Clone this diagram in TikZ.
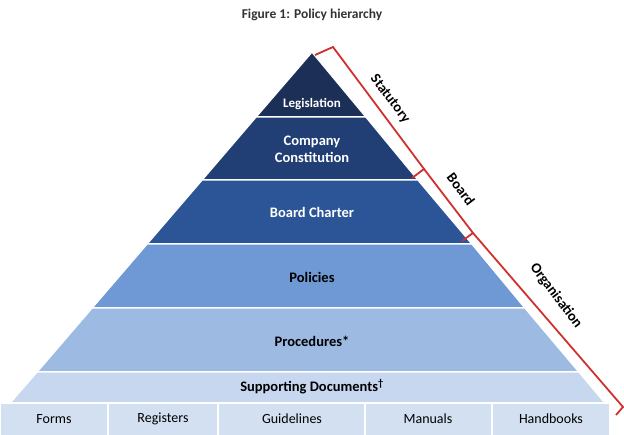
\documentclass[tikz,border=0pt]{standalone}
\usepackage{fontspec}
\setmainfont{Carlito}
\definecolor{legis}{HTML}{1B2F57}
\definecolor{constit}{HTML}{213F74}
\definecolor{charter}{HTML}{2C5597}
\definecolor{policy}{HTML}{6E99D4}
\definecolor{proced}{HTML}{9DBAE3}
\definecolor{support}{HTML}{C6D7EF}
\definecolor{docrow}{HTML}{D3E0F2}
\definecolor{brack}{HTML}{D0312D}
\begin{document}
\begin{tikzpicture}[x=1pt,y=-1pt,
  layer/.style={draw=white,line width=1.5pt},
  label/.style={font=\bfseries\fontsize{14.5}{17}\selectfont,align=center},
  cell/.style={font=\fontsize{14}{16}\selectfont},
  bracket/.style={draw=brack,line width=1.8pt},
  side/.style={font=\bfseries\fontsize{14.5}{16}\selectfont,rotate=-53}]
  \useasboundingbox (0,0) rectangle (624,435);
  \node[font=\bfseries\fontsize{13.5}{15}\selectfont,text=black!80] (title) at (312,15) {Figure 1: Policy hierarchy};
  % pyramid layers
  \fill[legis,layer] (312,52) -- (256,117) -- (366,117) -- cycle;
  \fill[constit,layer] (256,117) -- (202,180) -- (418,180) -- (366,117) -- cycle;
  \fill[charter,layer] (202,180) -- (147,244) -- (472,244) -- (418,180) -- cycle;
  \fill[policy,layer] (147,244) -- (92,308) -- (525,308) -- (472,244) -- cycle;
  \fill[proced,layer] (92,308) -- (37,372) -- (579,372) -- (525,308) -- cycle;
  \fill[support,layer] (37,372) -- (10,403) -- (605,403) -- (579,372) -- cycle;
  \fill[docrow,layer] (0,403) rectangle (610,436);
  \foreach \x in {108,218,365,492} \draw[white,line width=1.5pt] (\x,403) -- (\x,436);
  \node[label,text=white,font=\bfseries\fontsize{13}{15}\selectfont] (legislation) at (312,104) {Legislation};
  \node[label,text=white] (constitution) at (312,149) {Company\\Constitution};
  \node[label,text=white] (charter) at (312,212) {Board Charter};
  \node[label] (policies) at (312,277) {Policies};
  \node[label] (procedures) at (312,341) {Procedures*};
  \node[label] (supporting) at (312,387) {Supporting Documents\textsuperscript{†}};
  \node[cell] (forms) at (54,419) {Forms};
  \node[cell] (registers) at (163,419) {Registers};
  \node[cell] (guidelines) at (292,419) {Guidelines};
  \node[cell] (manuals) at (428,419) {Manuals};
  \node[cell] (handbooks) at (551,419) {Handbooks};
  % brackets
  \coordinate (s0) at (315,55);
  \coordinate (s1) at (333,47);
  \coordinate (s2) at (424,169);
  \coordinate (s3) at (412,178);
  \coordinate (b1) at (473,233);
  \coordinate (b2) at (462,241);
  \coordinate (o1) at (623,407);
  \coordinate (o2) at (616,415);
  \draw[bracket] (s0) -- (s1) -- (s2) -- (s3);
  \draw[bracket] (s2) -- (b1) -- (b2);
  \draw[bracket] (b1) -- (o1) -- (o2);
  \node[side] (statutory) at (390,99) {Statutory};
  \node[side] (board) at (461,189) {Board};
  \node[side] (organisation) at (556,296) {Organisation};
\end{tikzpicture}
\end{document}
